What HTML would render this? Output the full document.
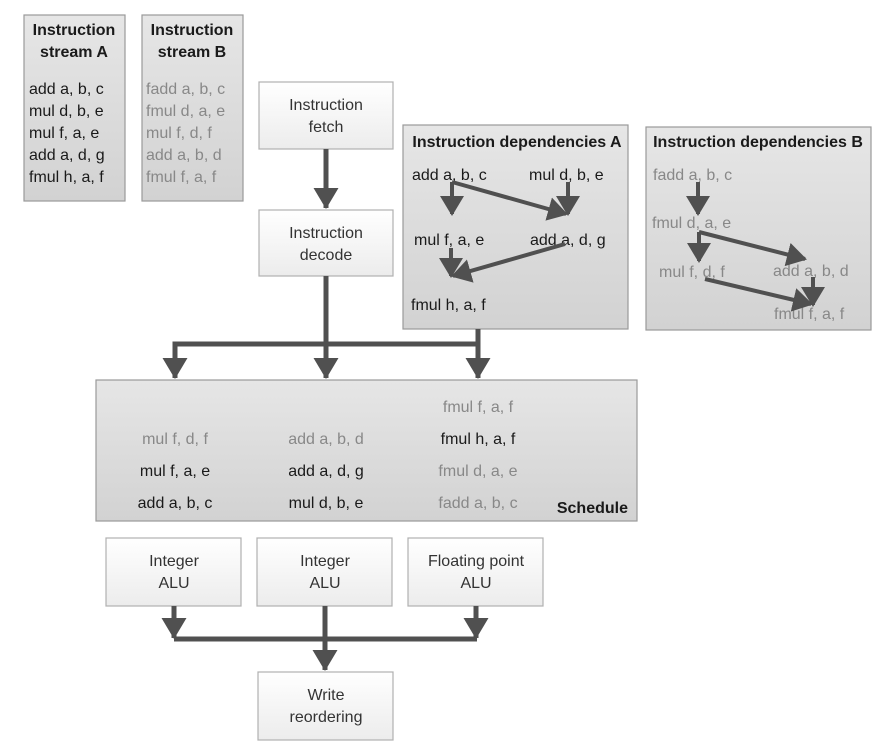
<!DOCTYPE html>
<html><head><meta charset="utf-8"><style>
html,body{margin:0;padding:0;background:#fff;}
svg{display:block;font-family:"Liberation Sans",sans-serif;}
</style></head><body>
<svg width="890" height="747" viewBox="0 0 890 747" xmlns="http://www.w3.org/2000/svg">
<defs>
<linearGradient id="g" x1="0" y1="0" x2="0" y2="1"><stop offset="0" stop-color="#e6e6e6"/><stop offset="1" stop-color="#d2d2d2"/></linearGradient>
<linearGradient id="w" x1="0" y1="0" x2="0" y2="1"><stop offset="0" stop-color="#ffffff"/><stop offset="1" stop-color="#ececec"/></linearGradient>
<marker id="a" markerWidth="5" markerHeight="5" refX="4" refY="2.5" orient="auto" markerUnits="strokeWidth"><path d="M0,0 L4.2,2.5 L0,5 z" fill="#505050"/></marker>
<marker id="s" markerWidth="6" markerHeight="6" refX="4.5" refY="3" orient="auto" markerUnits="strokeWidth"><path d="M0,0 L5,3 L0,6 z" fill="#505050"/></marker>
</defs>
<g stroke="#9a9a9a" stroke-width="1.2">
<rect x="24" y="15" width="101" height="186" fill="url(#g)"/>
<rect x="142" y="15" width="101" height="186" fill="url(#g)"/>
<rect x="403" y="125" width="225" height="204" fill="url(#g)"/>
<rect x="646" y="127" width="225" height="203" fill="url(#g)"/>
<rect x="96" y="380" width="541" height="141" fill="url(#g)"/>
</g>
<g stroke="#b0b0b0" stroke-width="1.2" fill="url(#w)">
<rect x="259" y="82" width="134" height="67"/>
<rect x="259" y="210" width="134" height="66"/>
<rect x="106" y="538" width="135" height="68"/>
<rect x="257" y="538" width="135" height="68"/>
<rect x="408" y="538" width="135" height="68"/>
<rect x="258" y="672" width="135" height="68"/>
</g>
<g font-size="16" fill="#1a1a1a" text-anchor="middle" font-weight="bold">
<text x="74" y="35">Instruction</text><text x="74" y="57">stream A</text>
<text x="192" y="35">Instruction</text><text x="192" y="57">stream B</text>
<text x="517" y="147">Instruction dependencies A</text>
<text x="758" y="147">Instruction dependencies B</text>
<text x="628" y="513" text-anchor="end">Schedule</text>
</g>
<g font-size="16" fill="#1a1a1a" textLength="80">
<text x="29" y="94">add a, b, c</text><text x="29" y="116">mul d, b, e</text><text x="29" y="138">mul f, a, e</text><text x="29" y="160">add a, d, g</text><text x="29" y="182">fmul h, a, f</text>
</g>
<g font-size="16" fill="#888">
<text x="146" y="94">fadd a, b, c</text><text x="146" y="116">fmul d, a, e</text><text x="146" y="138">mul f, d, f</text><text x="146" y="160">add a, b, d</text><text x="146" y="182">fmul f, a, f</text>
</g>
<g font-size="16" fill="#333" text-anchor="middle">
<text x="326" y="110">Instruction</text><text x="326" y="132">fetch</text>
<text x="326" y="238">Instruction</text><text x="326" y="260">decode</text>
<text x="174" y="566">Integer</text><text x="174" y="588">ALU</text>
<text x="325" y="566">Integer</text><text x="325" y="588">ALU</text>
<text x="476" y="566">Floating point</text><text x="476" y="588">ALU</text>
<text x="326" y="700">Write</text><text x="326" y="722">reordering</text>
</g>
<g font-size="16" fill="#1a1a1a">
<text x="412" y="180">add a, b, c</text><text x="529" y="180">mul d, b, e</text>
<text x="414" y="245">mul f, a, e</text><text x="530" y="245">add a, d, g</text>
<text x="411" y="310">fmul h, a, f</text>
</g>
<g font-size="16" fill="#888">
<text x="653" y="180">fadd a, b, c</text>
<text x="652" y="228">fmul d, a, e</text>
<text x="659" y="277">mul f, d, f</text><text x="773" y="276">add a, b, d</text>
<text x="774" y="319">fmul f, a, f</text>
</g>
<g font-size="16" text-anchor="middle">
<text x="478" y="412" fill="#888">fmul f, a, f</text>
<text x="175" y="444" fill="#888">mul f, d, f</text><text x="326" y="444" fill="#888">add a, b, d</text><text x="478" y="444" fill="#1a1a1a">fmul h, a, f</text>
<text x="175" y="476" fill="#1a1a1a">mul f, a, e</text><text x="326" y="476" fill="#1a1a1a">add a, d, g</text><text x="478" y="476" fill="#888">fmul d, a, e</text>
<text x="175" y="508" fill="#1a1a1a">add a, b, c</text><text x="326" y="508" fill="#1a1a1a">mul d, b, e</text><text x="478" y="508" fill="#888">fadd a, b, c</text>
</g>
<g stroke="#505050" stroke-width="5" fill="none">
<line x1="326" y1="149" x2="326" y2="208" marker-end="url(#a)"/>
<line x1="326" y1="276" x2="326" y2="378" marker-end="url(#a)"/>
<polyline points="175,378 175,344 478,344"/>
<line x1="175" y1="350" x2="175" y2="378" marker-end="url(#a)"/>
<line x1="478" y1="329" x2="478" y2="378" marker-end="url(#a)"/>
<line x1="174" y1="606" x2="174" y2="638" marker-end="url(#a)"/>
<line x1="476" y1="606" x2="476" y2="638" marker-end="url(#a)"/>
<line x1="174" y1="639" x2="477" y2="639"/>
<line x1="325" y1="606" x2="325" y2="670" marker-end="url(#a)"/>
</g>
<g stroke="#505050" stroke-width="4" fill="none">
<line x1="452" y1="182" x2="452" y2="214" marker-end="url(#s)"/>
<line x1="452" y1="182" x2="566" y2="214" marker-end="url(#s)"/>
<line x1="568" y1="182" x2="568" y2="214" marker-end="url(#s)"/>
<line x1="451" y1="248" x2="451" y2="276" marker-end="url(#s)"/>
<line x1="565" y1="244" x2="453" y2="276" marker-end="url(#s)"/>
<line x1="698" y1="182" x2="698" y2="214" marker-end="url(#s)"/>
<line x1="699" y1="232" x2="699" y2="261" marker-end="url(#s)"/>
<line x1="699" y1="232" x2="805" y2="259" marker-end="url(#s)"/>
<line x1="813" y1="277" x2="813" y2="305" marker-end="url(#s)"/>
<line x1="705" y1="279" x2="811" y2="304" marker-end="url(#s)"/>
</g>
</svg>
</body></html>
